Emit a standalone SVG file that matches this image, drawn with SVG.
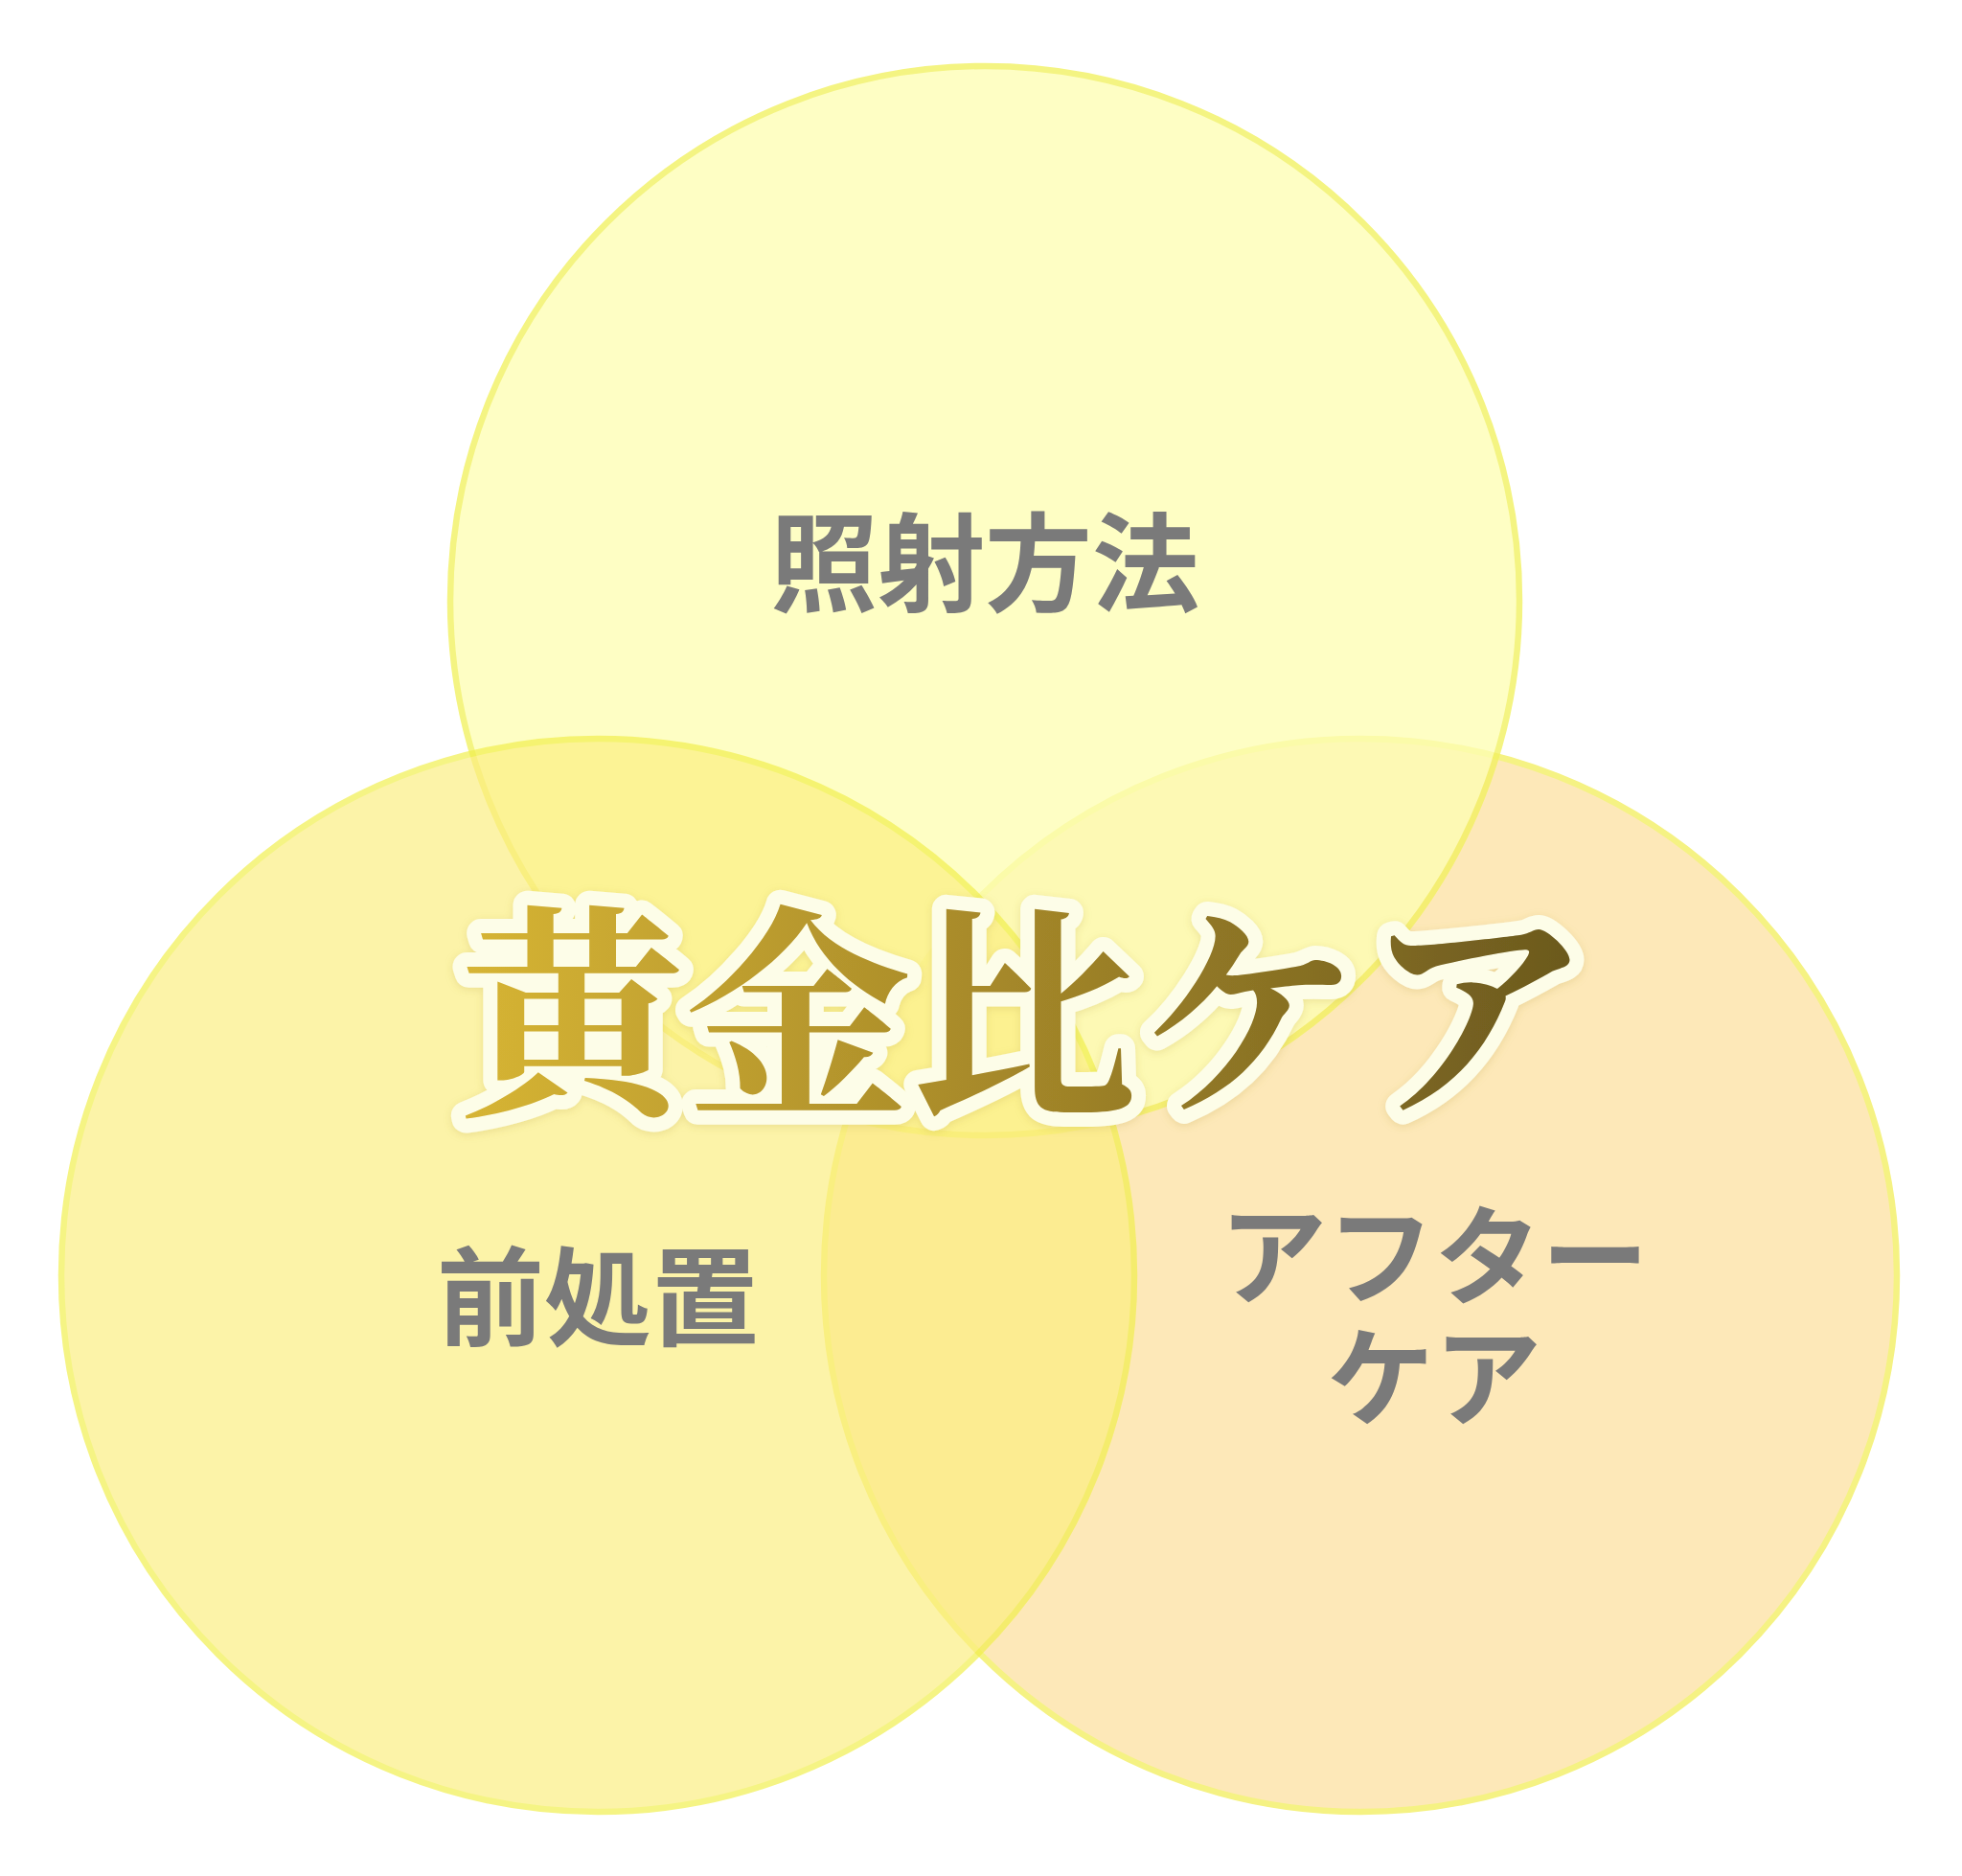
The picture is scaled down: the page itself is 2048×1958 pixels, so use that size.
<svg xmlns="http://www.w3.org/2000/svg" width="2048" height="1958" viewBox="0 0 2048 1958">
  <defs>
    <linearGradient id="gold" gradientUnits="userSpaceOnUse" x1="490" y1="0" x2="1640" y2="0">
      <stop offset="0" stop-color="#D6B434"/>
      <stop offset="0.45" stop-color="#A98B2A"/>
      <stop offset="1" stop-color="#6B591E"/>
    </linearGradient>
    <filter id="halo" x="-10%" y="-30%" width="120%" height="160%">
      <feGaussianBlur in="SourceAlpha" stdDeviation="4"/>
      <feOffset dx="0" dy="2" result="b"/>
      <feFlood flood-color="#B8A040" flood-opacity="0.25"/>
      <feComposite in2="b" operator="in"/>
      <feMerge>
        <feMergeNode/>
        <feMergeNode in="SourceGraphic"/>
      </feMerge>
    </filter>
  </defs>
  <style>
    .ring { stroke-width: 6.5; }
    .label { font-family: "Noto Sans CJK JP", "Noto Sans CJK SC", sans-serif; font-weight: 700; font-size: 112px; fill: #7A7A7A; text-anchor: middle; }
    .title { font-family: "Noto Serif CJK JP", "Noto Sans CJK JP", "Noto Sans CJK SC", serif; font-weight: 700; font-size: 236px; text-anchor: middle; fill: url(#gold); stroke: #FDFDE8; stroke-width: 30; stroke-linejoin: round; paint-order: stroke fill; }
  </style>
  <rect width="2048" height="1958" fill="#FFFFFF"/>

  <g id="node-aftercare">
    <circle class="ring" cx="1420" cy="1331" r="560" fill="#FDE8B8" stroke="#F5F283"/>
  </g>
  <g id="node-irradiation">
    <circle class="ring" cx="1028" cy="627" r="558" fill="#FEFEB4" stroke="#F2F15F" opacity="0.775"/>
  </g>
  <g id="node-pretreatment">
    <circle class="ring" cx="624" cy="1331" r="560" fill="#FCEE80" stroke="#F1EF4B" opacity="0.68"/>
  </g>

  <g id="connectors"/>

  <g id="label-irradiation">
    <text class="label" x="1028" y="630">照射方法</text>
  </g>
  <g id="label-pretreatment">
    <text class="label" x="624" y="1396">前処置</text>
  </g>
  <g id="label-aftercare">
    <text class="label" x="1497" y="1353">アフター</text>
    <text class="label" x="1497" y="1480">ケア</text>
  </g>

  <g id="title" filter="url(#halo)">
    <text class="title" x="1069" y="1146">黄金比ケア</text>
  </g>
</svg>
